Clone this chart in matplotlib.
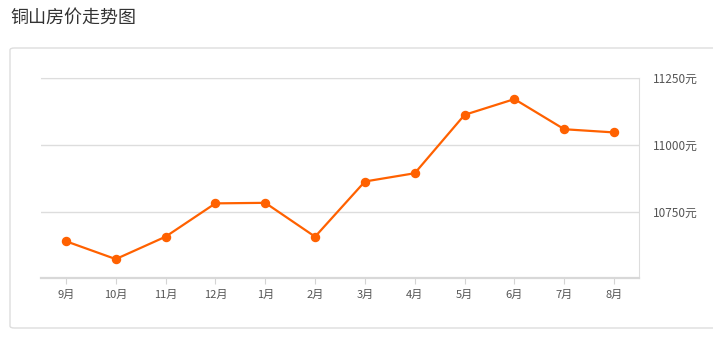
import matplotlib
matplotlib.use('Agg')
import matplotlib.pyplot as plt
from matplotlib.patches import FancyBboxPatch

plt.rcParams['font.family'] = ['Noto Sans CJK SC', 'DejaVu Sans']

# 铜山房价 (元/㎡)
months = ['9月', '10月', '11月', '12月', '1月', '2月', '3月', '4月', '5月', '6月', '7月', '8月']
prices = [10639, 10572, 10656, 10781, 10783, 10656, 10863, 10894, 11113, 11172, 11059, 11047]
y_ticks = [10750, 11000, 11250]
y_labels = ['10750元', '11000元', '11250元']

fig = plt.figure(figsize=(7.13, 3.38), dpi=100)

# outer frame, kept behind the axes
frame = FancyBboxPatch((10 / 713, 10 / 338), 720 / 713, 280 / 338,
                       boxstyle='round,pad=0,rounding_size=0.006',
                       transform=fig.transFigure, facecolor='white',
                       edgecolor='#dddddd', linewidth=1, zorder=-5)
fig.patches.append(frame)

fig.text(10 / 713, 1 - 18 / 338, '铜山房价走势图', fontsize=13, color='#333333',
         ha='left', va='center')

ax = fig.add_axes([41 / 713, 59.7 / 338, 598 / 713, 200 / 338])
ax.set_zorder(2)
ax.set_facecolor('none')
x = list(range(len(months)))
ax.plot(x, prices, color='#ff6100', linewidth=1.6, marker='o', markersize=5.8,
        zorder=3, clip_on=False)

ax.set_xlim(-0.5, len(months) - 0.5)
ax.set_ylim(10500, 11250)
ax.set_xticks(x)
ax.set_xticklabels(months)
ax.set_yticks(y_ticks)
ax.set_yticklabels(y_labels)
ax.yaxis.tick_right()
ax.tick_params(axis='y', length=0, pad=10, labelsize=8.5, labelcolor='#555555')
ax.tick_params(axis='x', length=4, width=0.8, color='#d4d4d4', pad=4,
               labelsize=8, labelcolor='#555555')

ax.grid(axis='y', color='#dddddd', linewidth=1)
ax.set_axisbelow(True)
ax.spines['left'].set_visible(False)
ax.spines['top'].set_color('#dddddd')
ax.spines['right'].set_color('#dddddd')
ax.spines['bottom'].set_color('#d8d8d8')
ax.spines['bottom'].set_linewidth(1.6)

fig.savefig('out.png', dpi=100)
